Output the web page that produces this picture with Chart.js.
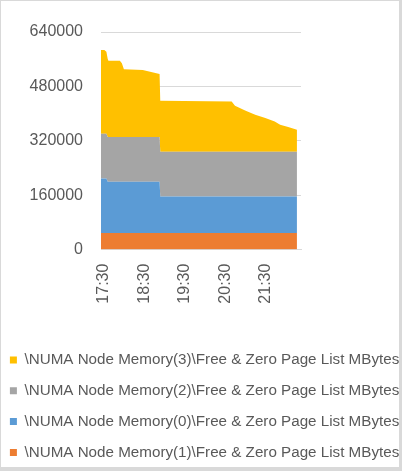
<!DOCTYPE html>
<html>
<head>
<meta charset="utf-8">
<script src="https://cdn.jsdelivr.net/npm/chart.js@4.4.1/dist/chart.umd.min.js"></script>
<style>
    html, body { margin: 0; padding: 0; background: #d9d9d9; }
    #frame { position: absolute; left: 1px; top: 1px; width: 398px; height: 466px; background: #fff; }
</style>
</head>
<body>
<div id="frame"><canvas id="numaChart" width="398" height="466"></canvas></div>
<script>
    "use strict";

    // sample times (the source log is much denser)
    const sampleTimes = ['17:30', '17:35', '17:38', '17:40', '17:41', '17:58', '18:01', '18:04', '18:32', '18:57',
                         '18:58', '20:44', '20:49', '21:04', '21:19', '21:34', '21:48', '21:56', '22:08', '22:21'];

    // MBytes per NUMA node, stacked bottom to top: (1), (0), (2), (3)
    const node1 = [49000, 49000, 49000, 49000, 49000, 49000, 49000, 49000, 49000, 49000,
                   49000, 49000, 49000, 49000, 49000, 49000, 49000, 49000, 49000, 49000];
    const node0 = [160300, 160300, 160300, 150600, 150600, 150600, 150600, 150600, 150600, 150600,
                   107500, 107500, 107500, 107500, 107500, 107500, 107500, 107500, 107500, 107500];
    const node2 = [131300, 131300, 131300, 131300, 131300, 131300, 131300, 131300, 131300, 131300,
                   131300, 131300, 131300, 131300, 131300, 131300, 131300, 131300, 131300, 131300];
    const node3 = [246600, 246600, 241600, 229900, 224900, 224900, 217200, 199600, 197600, 185800,
                   149800, 147700, 135100, 121300, 108700, 99000, 89000, 79300, 72600, 64600];

    const xTickLabels = ['17:30', '18:30', '19:30', '20:30', '21:30'];
    const xRange = ['17:30', '22:27'];
    const yTicks = [0, 160000, 320000, 480000, 640000];

    const _label = n => '\\NUMA Node Memory(' + n + ')\\Free & Zero Page List MBytes';

    function _toMin(s) {
        const p = s.split(':');
        return parseInt(p[0]) * 60 + parseInt(p[1]);
    }

    function _fmt(v) {
        const h = Math.floor(v / 60), m = v % 60;
        return h + ':' + (m < 10 ? '0' + m : m);
    }

    function _series(values) {
        return values.map((v, i) => ({ x: _toMin(sampleTimes[i]), y: v }));
    }

    function _area(label, color, values, fill) {
        return {
            label: label,
            data: _series(values),
            backgroundColor: color,
            borderColor: color,
            borderWidth: 0,
            pointRadius: 0,
            tension: 0,
            fill: fill
        };
    }

    Chart.defaults.font.family = "'Liberation Sans', Arial, sans-serif";
    Chart.defaults.color = '#595959';

    new Chart(document.getElementById('numaChart'), {
        type: 'line',
        data: {
            datasets: [
                _area(_label(1), '#ED7D31', node1, 'origin'),
                _area(_label(0), '#5B9BD5', node0, '-1'),
                _area(_label(2), '#A5A5A5', node2, '-1'),
                _area(_label(3), '#FFC000', node3, '-1')
            ]
        },
        options: {
            responsive: false,
            animation: false,
            layout: {
                padding: { left: -6.7, top: 31, right: 0, bottom: -3 }
            },
            plugins: {
                tooltip: { enabled: false },
                legend: {
                    display: true,
                    position: 'bottom',
                    align: 'start',
                    reverse: true,
                    labels: {
                        boxWidth: 7,
                        boxHeight: 7,
                        padding: 15.6,
                        color: '#595959',
                        font: { size: 15.2 }
                    }
                }
            },
            scales: {
                x: {
                    type: 'linear',
                    min: _toMin(xRange[0]),
                    max: _toMin(xRange[1]),
                    grid: { display: false },
                    border: { display: true, color: '#d9d9d9', width: 1 },
                    afterBuildTicks: (scale) => {
                        scale.ticks = xTickLabels.map(t => ({ value: _toMin(t) }));
                    },
                    afterFit: (scale) => { scale.height = 87.2; },
                    ticks: {
                        autoSkip: false,
                        maxRotation: 90,
                        minRotation: 90,
                        padding: 6,
                        labelOffset: 3,
                        color: '#595959',
                        font: { size: 16 },
                        callback: _fmt
                    }
                },
                y: {
                    stacked: true,
                    min: yTicks[0],
                    max: yTicks[yTicks.length - 1],
                    border: { display: false },
                    grid: { color: '#d9d9d9', drawTicks: false },
                    afterBuildTicks: (scale) => {
                        scale.ticks = yTicks.map(v => ({ value: v }));
                    },
                    afterFit: (scale) => { scale.width = 106.7; },
                    ticks: {
                        padding: 18,
                        color: '#595959',
                        font: { size: 16 },
                        callback: v => String(v)
                    }
                },
                // empty band on the right, keeps the plot as narrow as the original
                spacer: {
                    type: 'linear',
                    position: 'right',
                    display: true,
                    grid: { display: false },
                    border: { display: false },
                    ticks: { display: false },
                    afterFit: (scale) => { scale.width = 98; }
                }
            }
        }
    });
</script>
</body>
</html>
